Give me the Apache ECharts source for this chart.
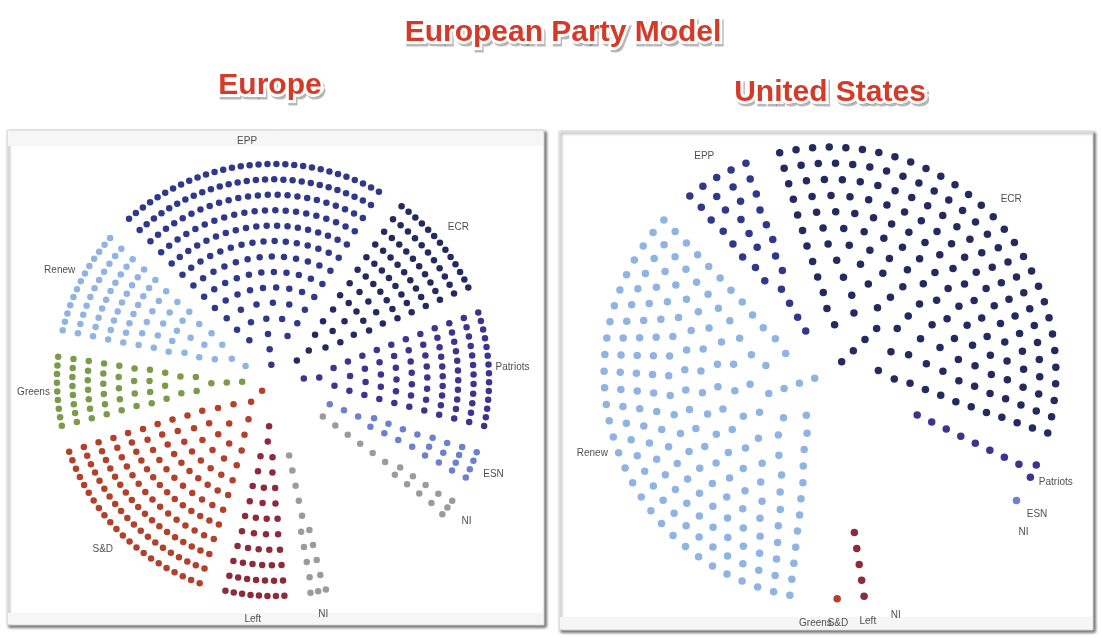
<!DOCTYPE html>
<html>
<head>
<meta charset="utf-8">
<script src="https://cdn.jsdelivr.net/npm/echarts@6/dist/echarts.min.js"></script>
<style>
  html, body { margin: 0; padding: 0; background: #fff; }
  #chart { width: 1103px; height: 638px; }
</style>
</head>
<body>
<div id="chart"></div>
<script>
// parties in seating order, clockwise from the bottom
const parties = ['NI', 'Left', 'S&D', 'Greens', 'Renew', 'EPP', 'ECR', 'Patriots', 'ESN', 'NI'];
const partyColors = ['#9b9b9b', '#8b2b3b', '#b2402a', '#7a9b49', '#8fb4e3', '#2f388a', '#232a60', '#3b3590', '#6c80cf', '#9b9b9b'];
const europeSeats = [16, 46, 136, 53, 77, 188, 78, 84, 25, 17];
const usSeats = [0, 5, 1, 0, 184, 30, 178, 10, 1, 0];

// layout of the "pie of dots"
const START = -72.4;   // degrees, first party starts here and goes clockwise
const SWEEP = 329.5;   // total degrees used
const PAD = 4.8;       // gap given to each party
const ROWS = 14;
const LABEL_R = 1.11;

function norm(a) {
  return ((a % 360) + 360) % 360;
}

function layout(seats) {
  const total = seats.reduce((a, b) => a + b, 0);
  const k = (SWEEP - PAD * seats.length) / total;
  const radii = [];
  for (let j = 0; j < ROWS; j++) radii.push((ROWS - j) / ROWS);
  const weights = radii.map(r => Math.pow(r, 1.5));
  let edge = START;
  return seats.map(s => {
    const span = s * k;
    const slot = PAD + span;
    const mid = edge - slot / 2;
    edge -= slot;
    const dots = [];
    let rem = s;
    // fill rows from the outside in
    for (let j = 0; j < ROWS && rem > 0; j++) {
      let wRest = 0;
      for (let i = j; i < ROWS; i++) wRest += weights[i];
      let n = Math.max(1, Math.round(rem * weights[j] / wRest));
      n = Math.min(n, rem);
      for (let i = 0; i < n; i++) {
        const a = mid + span / 2 - (i + 0.5) * span / n;
        dots.push([radii[j], norm(a)]);
      }
      rem -= n;
    }
    return { dots: dots, mid: norm(mid) };
  });
}

function buildSeries(seats, polarIndex, size) {
  const parts = layout(seats);
  const out = parts.map((p, i) => ({
    type: 'scatter',
    coordinateSystem: 'polar',
    polarIndex: polarIndex,
    symbolSize: size,
    itemStyle: { color: partyColors[i], opacity: 1 },
    data: p.dots,
    z: 5,
    silent: true
  }));
  // party names just outside the circle
  out.push({
    type: 'scatter',
    coordinateSystem: 'polar',
    polarIndex: polarIndex,
    symbolSize: 0,
    z: 6,
    label: {
      show: true,
      position: 'inside',
      formatter: function (params) { return params.name; },
      color: '#222',
      fontSize: 10,
      fontFamily: '"Liberation Sans", Arial, sans-serif'
    },
    data: parts.map((p, i) => ({ name: parties[i], value: [LABEL_R, p.mid] })),
    silent: true
  });
  return out;
}

const chart = echarts.init(document.getElementById('chart'), null, { renderer: 'canvas' });

function axisPair(idx) {
  return {
    angle: { polarIndex: idx, type: 'value', min: 0, max: 360, startAngle: 0, clockwise: false, show: false },
    radius: { polarIndex: idx, type: 'value', min: 0, max: 1.12, show: false }
  };
}
const ax0 = axisPair(0), ax1 = axisPair(1);

// red heading with white outline and drop shadow, drawn as three layers
function titleText(text, x, y) {
  const font = 'bold 30px "Liberation Sans", Arial, sans-serif';
  const base = { text: text, font: font, align: 'center', verticalAlign: 'middle' };
  return [{
    type: 'text', x: x + 2, y: y + 3, z: 98,
    style: Object.assign({}, base, {
      fill: 'rgba(0,0,0,0.28)', stroke: 'rgba(0,0,0,0.28)', lineWidth: 5
    })
  }, {
    type: 'text', x: x, y: y, z: 99,
    style: Object.assign({}, base, { fill: '#fff', stroke: '#fff', lineWidth: 6 })
  }, {
    type: 'text', x: x, y: y, z: 100,
    style: Object.assign({}, base, { fill: '#d53a29' })
  }];
}

function panel(x, y, w, h) {
  return {
    type: 'rect',
    z: -10,
    shape: { x: x, y: y, width: w, height: h },
    style: {
      fill: '#fff',
      stroke: '#dadada',
      lineWidth: 1,
      shadowBlur: 3,
      shadowColor: 'rgba(0,0,0,0.6)',
      shadowOffsetX: 2,
      shadowOffsetY: 2
    }
  };
}

function band(x, y, w, h) {
  return {
    type: 'rect',
    z: -9,
    shape: { x: x, y: y, width: w, height: h },
    style: { fill: '#f6f6f6' }
  };
}

const option = {
  animation: false,
  backgroundColor: '#fff',
  graphic: [
    panel(7, 130, 537, 495),
    panel(559, 131, 534, 499),
    band(8, 131, 535, 15),
    band(8, 613, 535, 11),
    band(560, 617, 532, 12)
  ].concat(
    titleText('European Party Model', 563, 33),
    titleText('Europe', 270, 86),
    titleText('United States', 830, 93)
  ),
  polar: [
    { center: [273, 380], radius: 242 },
    { center: [830, 373], radius: 253 }
  ],
  angleAxis: [ax0.angle, ax1.angle],
  radiusAxis: [ax0.radius, ax1.radius],
  series: buildSeries(europeSeats, 0, 6.5).concat(buildSeries(usSeats, 1, 7.5))
};

chart.setOption(option);
</script>
</body>
</html>
